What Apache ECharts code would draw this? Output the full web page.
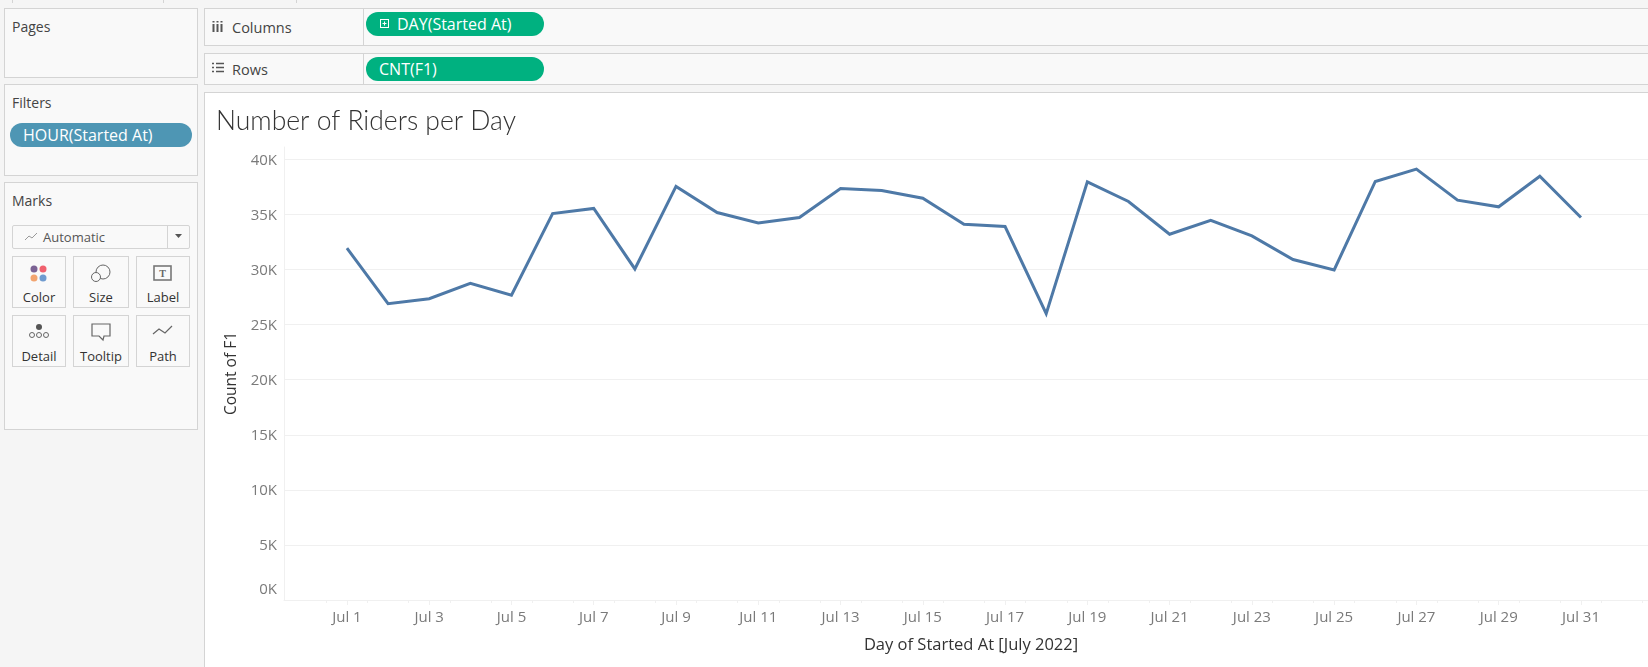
<!DOCTYPE html>
<html lang="en">
<head>
<meta charset="UTF-8">
<title>Number of Riders per Day</title>
<script src="https://cdn.jsdelivr.net/npm/echarts@6/dist/echarts.min.js"></script>
<style>
  html, body { margin: 0; padding: 0; width: 1648px; height: 667px; overflow: hidden; background: #f5f5f5; font-family: "Open Sans", sans-serif; color: #444; }
  .box { position: absolute; box-sizing: border-box; background: #f9f9f9; border: 1px solid #d4d4d4; }
  .txt { position: absolute; font-size: 14px; line-height: 18px; white-space: nowrap; }
  .pill { position: absolute; box-sizing: border-box; color: #fff; font-size: 16px; line-height: 24px; border-radius: 12px; white-space: nowrap; }
  .card { position: absolute; box-sizing: border-box; width: 54px; height: 52px; background: #f9f9f9; border: 1px solid #d4d4d4; text-align: center; font-size: 13px; color: #333; }
  .card svg { position: absolute; left: 50%; top: 7px; margin-left: -12px; }
  .card span { position: absolute; left: 0; right: 0; top: 31px; line-height: 18px; }
  .hair { position: absolute; top: 0; width: 1px; height: 3px; background: #d4d4d4; }
  #main { position: absolute; left: 204px; top: 92px; width: 1444px; height: 575px; background: #fff; border-left: 1px solid #d4d4d4; border-top: 1px solid #d4d4d4; box-sizing: border-box; }
</style>
</head>
<body>

<div class="hair" style="left:12px"></div>
<div class="hair" style="left:163px"></div>
<div class="hair" style="left:296px"></div>

<div class="box" style="left:4px;top:8px;width:194px;height:70px"></div>
<div class="txt" style="left:12px;top:18px">Pages</div>

<div class="box" style="left:4px;top:84px;width:194px;height:92px"></div>
<div class="txt" style="left:12px;top:94px">Filters</div>
<div class="pill" style="left:10px;top:123px;width:182px;padding-left:13px;background:#4e96b4">HOUR(Started At)</div>

<div class="box" style="left:4px;top:182px;width:194px;height:248px"></div>
<div class="txt" style="left:12px;top:192px">Marks</div>
<div class="box" style="left:12px;top:225px;width:178px;height:24px;border-radius:2px"></div>
<div style="position:absolute;left:167px;top:225px;width:1px;height:24px;background:#d4d4d4"></div>
<svg style="position:absolute;left:24px;top:231px" width="14" height="12"><path d="M1 9 L5 5 L8 7 L13 2" fill="none" stroke="#999" stroke-width="1"/></svg>
<div class="txt" style="left:43px;top:228px;font-size:13px;color:#555">Automatic</div>
<svg style="position:absolute;left:175px;top:234px" width="8" height="6"><path d="M0 0 L7 0 L3.5 4 Z" fill="#555"/></svg>

<div class="card" style="left:12px;top:256px"><svg width="24" height="20"><circle cx="7" cy="5" r="3.5" fill="#7b6294"/><circle cx="16" cy="5" r="3.5" fill="#f0616e"/><circle cx="7" cy="14" r="3.5" fill="#f2a46f"/><circle cx="16" cy="14" r="3.5" fill="#6f9bcf"/></svg><span>Color</span></div>
<div class="card" style="left:73px;top:256px;width:56px"><svg width="24" height="20"><circle cx="14" cy="8" r="7" fill="none" stroke="#666"/><circle cx="7" cy="13" r="4.5" fill="#f9f9f9" stroke="#666"/></svg><span>Size</span></div>
<div class="card" style="left:136px;top:256px"><svg width="24" height="20"><rect x="3" y="2" width="17" height="14" fill="none" stroke="#777" stroke-width="1.6"/><text x="11.5" y="13" font-size="10" font-weight="bold" font-family="Liberation Serif" fill="#666" text-anchor="middle">T</text></svg><span>Label</span></div>

<div class="card" style="left:12px;top:315px"><svg width="24" height="20"><circle cx="12" cy="4" r="3" fill="#555"/><circle cx="5" cy="12" r="2.5" fill="none" stroke="#666"/><circle cx="12" cy="12" r="2.5" fill="none" stroke="#666"/><circle cx="19" cy="12" r="2.5" fill="none" stroke="#666"/></svg><span>Detail</span></div>
<div class="card" style="left:73px;top:315px;width:56px"><svg width="24" height="20"><path d="M3 1 H21 V13 H15 L14 17 L10 13 H3 Z" fill="none" stroke="#666" stroke-width="1.2"/></svg><span>Tooltip</span></div>
<div class="card" style="left:136px;top:315px"><svg width="24" height="20"><path d="M2 11 L8 6 L14 10 L21 3" fill="none" stroke="#666" stroke-width="1.2"/></svg><span>Path</span></div>

<div class="box" style="left:204px;top:8px;width:1450px;height:38px"></div>
<div style="position:absolute;left:363px;top:8px;width:1px;height:38px;background:#d4d4d4"></div>
<svg style="position:absolute;left:212px;top:21px" width="12" height="12"><path d="M1.5 3V11M5.5 3V11M9.5 3V11" stroke="#555" stroke-width="2"/><path d="M1.5 0V1.5M5.5 0V1.5M9.5 0V1.5" stroke="#555" stroke-width="2"/></svg>
<div class="txt" style="left:232px;top:19px;font-size:14.5px">Columns</div>
<div class="pill" style="left:366px;top:12px;width:178px;padding-left:31px;background:#00b180">DAY(Started At)</div>
<svg style="position:absolute;left:380px;top:19px" width="10" height="10"><rect x="0.5" y="0.5" width="8" height="8" fill="none" stroke="#fff"/><path d="M2.5 4.5H6.5M4.5 2.5V6.5" stroke="#fff"/></svg>

<div class="box" style="left:204px;top:53px;width:1450px;height:32px"></div>
<div style="position:absolute;left:363px;top:53px;width:1px;height:32px;background:#d4d4d4"></div>
<svg style="position:absolute;left:212px;top:62px" width="13" height="11"><path d="M0 1.5H2M4 1.5H12M0 5.5H2M4 5.5H12M0 9.5H2M4 9.5H12" stroke="#555" stroke-width="1.6"/></svg>
<div class="txt" style="left:232px;top:61px;font-size:14.5px">Rows</div>
<div class="pill" style="left:366px;top:57px;width:178px;padding-left:13px;background:#00b180">CNT(F1)</div>

<div id="main"></div>

<script type="text/javascript">
  // values, one per day of July 2022
  const days = [1, 2, 3, 4, 5, 6, 7, 8, 9, 10, 11, 12, 13, 14, 15, 16, 17, 18, 19, 20, 21, 22, 23, 24, 25, 26, 27, 28, 29, 30, 31]
  const riders = [31940, 26910, 27360, 28760, 27670, 35090, 35550, 30060, 37550, 35180, 34240, 34730, 37360, 37180, 36480, 34120, 33910, 26000, 37970, 36180, 33210, 34480, 33060, 30910, 29970, 38000, 39120, 36300, 35700, 38480, 34730]
  const labelDays = [1, 3, 5, 7, 9, 11, 13, 15, 17, 19, 21, 23, 25, 27, 29, 31]
  const cellEdges = [0.5, 1.5, 2.5, 3.5, 4.5, 5.5, 6.5, 7.5, 8.5, 9.5, 10.5, 11.5, 12.5, 13.5, 14.5, 15.5, 16.5, 17.5, 18.5, 19.5, 20.5, 21.5, 22.5, 23.5, 24.5, 25.5, 26.5, 27.5, 28.5, 29.5, 30.5, 31.5, 32.5]

  const faint = '#f0f0f0'
  const tickGrey = '#7a7a7a'
  const dayMin = -0.53
  const dayMax = 32.63

  var myChart = echarts.init(document.getElementById('main'))

  var option = {
    animation: false,
    title: {
      text: 'Number of Riders per Day',
      left: 6,
      top: 10,
      textStyle: { fontFamily: 'Lato', fontWeight: 300, fontSize: 26.5, color: '#333' }
    },
    grid: { left: 79, right: 0, top: 54, bottom: 67, containLabel: false },
    xAxis: [
      {
        type: 'value',
        min: dayMin,
        max: dayMax,
        name: 'Day of Started At [July 2022]',
        nameLocation: 'middle',
        nameGap: 37,
        nameTextStyle: { fontFamily: 'Open Sans', fontSize: 16.5, color: '#333', padding: [0, 0, 0, 10] },
        splitLine: { show: false },
        axisLine: { show: true, onZero: false, lineStyle: { color: faint } },
        axisTick: { show: true, length: 5, lineStyle: { color: faint }, customValues: labelDays },
        axisLabel: {
          color: tickGrey,
          fontFamily: 'Open Sans',
          fontSize: 15,
          margin: 10,
          customValues: labelDays,
          formatter: (d) => 'Jul ' + d
        }
      },
      {
        // short ticks between the days
        type: 'value',
        position: 'bottom',
        min: dayMin,
        max: dayMax,
        splitLine: { show: false },
        axisLine: { show: false, onZero: false },
        axisTick: { show: true, length: 3, lineStyle: { color: faint }, customValues: cellEdges },
        axisLabel: { show: false }
      }
    ],
    yAxis: {
      type: 'value',
      min: 0,
      max: 41130,
      interval: 5000,
      name: 'Count of F1',
      nameLocation: 'middle',
      nameGap: 38,
      nameTextStyle: { fontFamily: 'Open Sans', fontSize: 15.5, color: '#333' },
      axisLine: { show: true, onZero: false, lineStyle: { color: faint } },
      axisTick: { show: false },
      splitLine: { show: true, showMaxLine: false, showMinLine: false, lineStyle: { color: faint } },
      axisLabel: {
        color: tickGrey,
        fontFamily: 'Open Sans',
        fontSize: 15,
        margin: 7,
        padding: [2, 0, 0, 0],
        showMaxLabel: false,
        verticalAlignMinLabel: 'bottom',
        formatter: (v) => v === 0 ? '{zero|0K}' : (v / 1000) + 'K',
        rich: { zero: { color: tickGrey, fontFamily: 'Open Sans', fontSize: 15, padding: [0, 0, 3, 0] } }
      }
    },
    series: [
      {
        name: 'Riders',
        type: 'line',
        xAxisIndex: 0,
        data: days.map((d, i) => [d, riders[i]]),
        showSymbol: false,
        smooth: false,
        lineStyle: { color: '#4e79a7', width: 3, join: 'miter' }
      }
    ]
  }

  myChart.setOption(option)
</script>
</body>
</html>
